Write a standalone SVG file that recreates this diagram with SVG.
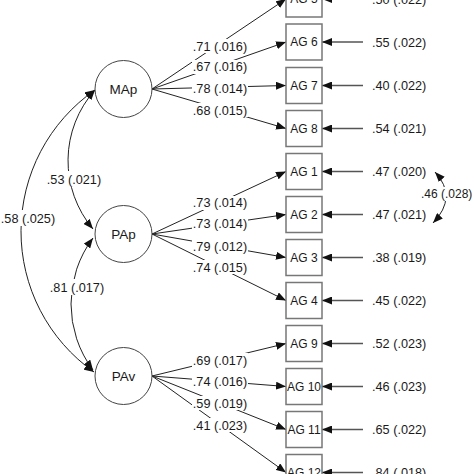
<svg xmlns="http://www.w3.org/2000/svg" width="474" height="474" viewBox="0 0 474 474">
<style>
text{font-family:"Liberation Sans",Arial,sans-serif;fill:#1a1a1a}
.lat{fill:#fff;stroke:#444;stroke-width:1}
.obs{fill:#fff;stroke:#777;stroke-width:1.5}
.ln{stroke:#222;stroke-width:1;fill:none}
.err{stroke:#555;stroke-width:1.3;fill:none}
.nl{font-size:13.5px;text-anchor:middle}
.bl{font-size:12px;text-anchor:middle}
.cl{font-size:12.7px;text-anchor:middle}
.el{font-size:12.7px}
.bg{fill:#fff}
</style>
<defs>
<marker id="ah" markerUnits="userSpaceOnUse" markerWidth="10" markerHeight="8" refX="10" refY="4" orient="auto-start-reverse">
<path d="M0,0 L10,4 L0,8 z" fill="#111"/>
</marker>
</defs>
<rect width="474" height="474" fill="#fff"/>
<g id="connectors">
<path class="ln" d="M95,90 A172,172 0 0 0 94,372" marker-start="url(#ah)" marker-end="url(#ah)"/>
<path class="ln" d="M95,90 A106,106 0 0 0 93,229" marker-start="url(#ah)" marker-end="url(#ah)"/>
<path class="ln" d="M93,238 A110,110 0 0 0 93,370" marker-start="url(#ah)" marker-end="url(#ah)"/>
<line class="ln" x1="152" y1="89" x2="286" y2="-1" marker-end="url(#ah)"/>
<line class="ln" x1="152" y1="89" x2="286" y2="42" marker-end="url(#ah)"/>
<line class="ln" x1="152" y1="89" x2="286" y2="85.5" marker-end="url(#ah)"/>
<line class="ln" x1="152" y1="89" x2="286" y2="128.5" marker-end="url(#ah)"/>
<line class="ln" x1="152" y1="234" x2="286" y2="171.5" marker-end="url(#ah)"/>
<line class="ln" x1="152" y1="234" x2="286" y2="214.5" marker-end="url(#ah)"/>
<line class="ln" x1="152" y1="234" x2="286" y2="257.5" marker-end="url(#ah)"/>
<line class="ln" x1="152" y1="234" x2="286" y2="300.5" marker-end="url(#ah)"/>
<line class="ln" x1="152" y1="376" x2="286" y2="343.5" marker-end="url(#ah)"/>
<line class="ln" x1="152" y1="376" x2="286" y2="386.5" marker-end="url(#ah)"/>
<line class="ln" x1="152" y1="376" x2="286" y2="429.5" marker-end="url(#ah)"/>
<line class="ln" x1="152" y1="376" x2="286" y2="472.5" marker-end="url(#ah)"/>
<line class="err" x1="363" y1="-1" x2="322" y2="-1" marker-end="url(#ah)"/>
<line class="err" x1="363" y1="42" x2="322" y2="42" marker-end="url(#ah)"/>
<line class="err" x1="363" y1="85.5" x2="322" y2="85.5" marker-end="url(#ah)"/>
<line class="err" x1="363" y1="128.5" x2="322" y2="128.5" marker-end="url(#ah)"/>
<line class="err" x1="363" y1="171.5" x2="322" y2="171.5" marker-end="url(#ah)"/>
<line class="err" x1="363" y1="214.5" x2="322" y2="214.5" marker-end="url(#ah)"/>
<line class="err" x1="363" y1="257.5" x2="322" y2="257.5" marker-end="url(#ah)"/>
<line class="err" x1="363" y1="300.5" x2="322" y2="300.5" marker-end="url(#ah)"/>
<line class="err" x1="363" y1="343.5" x2="322" y2="343.5" marker-end="url(#ah)"/>
<line class="err" x1="363" y1="386.5" x2="322" y2="386.5" marker-end="url(#ah)"/>
<line class="err" x1="363" y1="429.5" x2="322" y2="429.5" marker-end="url(#ah)"/>
<line class="err" x1="363" y1="472.5" x2="322" y2="472.5" marker-end="url(#ah)"/>
<path class="ln" d="M435,172 Q458,197 433,223" marker-start="url(#ah)" marker-end="url(#ah)"/>
</g>
<g id="labels">
<rect class="bg" x="0" y="210" width="57" height="16"/><text class="cl" x="28" y="222.5">.58 (.025)</text>
<rect class="bg" x="46" y="171" width="57" height="16"/><text class="cl" x="74" y="183.5">.53 (.021)</text>
<rect class="bg" x="49" y="279" width="57" height="16"/><text class="cl" x="77" y="291.5">.81 (.017)</text>
<rect class="bg" x="192" y="39" width="56" height="14"/><text class="cl" x="220" y="50.5">.71 (.016)</text>
<rect class="bg" x="192" y="60" width="56" height="14"/><text class="cl" x="220" y="71.2">.67 (.016)</text>
<rect class="bg" x="192" y="82" width="56" height="14"/><text class="cl" x="220" y="93.2">.78 (.014)</text>
<rect class="bg" x="192" y="103" width="56" height="14"/><text class="cl" x="220" y="114.5">.68 (.015)</text>
<rect class="bg" x="192" y="196" width="56" height="14"/><text class="cl" x="220" y="207.2">.73 (.014)</text>
<rect class="bg" x="192" y="216.5" width="56" height="14"/><text class="cl" x="220" y="227.5">.73 (.014)</text>
<rect class="bg" x="192" y="239" width="56" height="14"/><text class="cl" x="220" y="250.5">.79 (.012)</text>
<rect class="bg" x="192" y="260" width="56" height="14"/><text class="cl" x="220" y="271.5">.74 (.015)</text>
<rect class="bg" x="192" y="353" width="56" height="14"/><text class="cl" x="220" y="364.5">.69 (.017)</text>
<rect class="bg" x="192" y="375" width="56" height="14"/><text class="cl" x="220" y="386.2">.74 (.016)</text>
<rect class="bg" x="192" y="396" width="56" height="14"/><text class="cl" x="220" y="407.5">.59 (.019)</text>
<rect class="bg" x="192" y="418" width="56" height="14"/><text class="cl" x="220" y="429.5">.41 (.023)</text>
<text class="el" x="372" y="3.5">.50 (.022)</text>
<text class="el" x="372" y="46.5">.55 (.022)</text>
<text class="el" x="372" y="90">.40 (.022)</text>
<text class="el" x="372" y="133">.54 (.021)</text>
<text class="el" x="372" y="176">.47 (.020)</text>
<text class="el" x="372" y="219">.47 (.021)</text>
<text class="el" x="372" y="262">.38 (.019)</text>
<text class="el" x="372" y="305">.45 (.022)</text>
<text class="el" x="372" y="348">.52 (.023)</text>
<text class="el" x="372" y="391">.46 (.023)</text>
<text class="el" x="372" y="434">.65 (.022)</text>
<text class="el" x="372" y="477">.84 (.018)</text>
<rect class="bg" x="421" y="187" width="53" height="14"/><text style="font-size:12px" x="421" y="198">.46 (.028)</text>
</g>
<g id="MAp"><circle class="lat" cx="123.5" cy="89" r="28.5"/><text class="nl" x="123.5" y="94">MAp</text></g>
<g id="PAp"><circle class="lat" cx="123.5" cy="234" r="28.5"/><text class="nl" x="123.5" y="239">PAp</text></g>
<g id="PAv"><circle class="lat" cx="123.5" cy="376" r="28.5"/><text class="nl" x="123.5" y="381">PAv</text></g>
<g id="AG5"><rect class="obs" x="286" y="-19" width="36" height="36"/><text class="bl" x="304" y="3">AG 5</text></g>
<g id="AG6"><rect class="obs" x="286" y="24" width="36" height="36"/><text class="bl" x="304" y="46.3">AG 6</text></g>
<g id="AG7"><rect class="obs" x="286" y="67.5" width="36" height="36"/><text class="bl" x="304" y="89.8">AG 7</text></g>
<g id="AG8"><rect class="obs" x="286" y="110.5" width="36" height="36"/><text class="bl" x="304" y="132.8">AG 8</text></g>
<g id="AG1"><rect class="obs" x="286" y="153.5" width="36" height="36"/><text class="bl" x="304" y="175.8">AG 1</text></g>
<g id="AG2"><rect class="obs" x="286" y="196.5" width="36" height="36"/><text class="bl" x="304" y="218.8">AG 2</text></g>
<g id="AG3"><rect class="obs" x="286" y="239.5" width="36" height="36"/><text class="bl" x="304" y="261.8">AG 3</text></g>
<g id="AG4"><rect class="obs" x="286" y="282.5" width="36" height="36"/><text class="bl" x="304" y="304.8">AG 4</text></g>
<g id="AG9"><rect class="obs" x="286" y="325.5" width="36" height="36"/><text class="bl" x="304" y="347.8">AG 9</text></g>
<g id="AG10"><rect class="obs" x="286" y="368.5" width="36" height="36"/><text class="bl" x="304" y="390.8">AG 10</text></g>
<g id="AG11"><rect class="obs" x="286" y="411.5" width="36" height="36"/><text class="bl" x="304" y="433.8">AG 11</text></g>
<g id="AG12"><rect class="obs" x="286" y="454.5" width="36" height="36"/><text class="bl" x="304" y="476.8">AG 12</text></g>
</svg>
